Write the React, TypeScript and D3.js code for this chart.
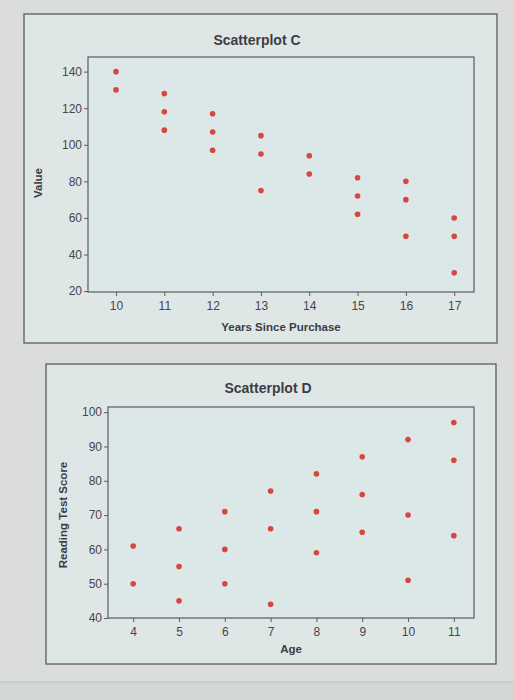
import { useEffect, useRef } from 'react';
import * as d3 from 'd3';

// Scatterplot C: years since purchase vs value
const yearsC = [10, 10, 11, 11, 11, 12, 12, 12, 13, 13, 13, 14, 14, 15, 15, 15, 16, 16, 16, 17, 17, 17];
const valuesC = [140, 130, 128, 118, 108, 117, 107, 97, 105, 95, 75, 94, 84, 82, 72, 62, 80, 70, 50, 60, 50, 30];
const xTicksC = [10, 11, 12, 13, 14, 15, 16, 17];
const yTicksC = [20, 40, 60, 80, 100, 120, 140];

// Scatterplot D: age vs reading test score
const ageD = [4, 4, 5, 5, 5, 6, 6, 6, 7, 7, 7, 8, 8, 8, 9, 9, 9, 10, 10, 10, 11, 11, 11];
const scoreD = [61, 50, 66, 55, 45, 71, 60, 50, 77, 66, 44, 82, 71, 59, 87, 76, 65, 92, 70, 51, 97, 86, 64];
const xTicksD = [4, 5, 6, 7, 8, 9, 10, 11];
const yTicksD = [40, 50, 60, 70, 80, 90, 100];

interface PanelSpec {
  panel: { x: number; y: number; w: number; h: number };
  plot: { left: number; right: number; top: number; bottom: number };
  xDomain: [number, number];
  yDomain: [number, number];
  xs: number[];
  ys: number[];
  xTicks: number[];
  yTicks: number[];
  title: string;
  titleX: number;
  titleY: number;
  xLabel: string;
  xLabelY: number;
  yLabel: string;
  yLabelX: number;
  yLabelY: number;
}

const drawPanel = (svg: d3.Selection<SVGSVGElement, unknown, null, undefined>, s: PanelSpec) => {
  const font = 'Liberation Sans, Arial, sans-serif';
  const g = svg.append('g');

  g.append('rect')
    .attr('x', s.panel.x)
    .attr('y', s.panel.y)
    .attr('width', s.panel.w)
    .attr('height', s.panel.h)
    .attr('fill', '#dfe6e6')
    .attr('stroke', '#5a5d62')
    .attr('stroke-width', 1.3);

  const x = d3.scaleLinear().domain(s.xDomain).range([s.plot.left, s.plot.right]);
  const y = d3.scaleLinear().domain(s.yDomain).range([s.plot.bottom, s.plot.top]);

  g.append('rect')
    .attr('x', s.plot.left)
    .attr('y', s.plot.top)
    .attr('width', s.plot.right - s.plot.left)
    .attr('height', s.plot.bottom - s.plot.top)
    .attr('fill', '#dce7e8')
    .attr('stroke', '#5a5d62')
    .attr('stroke-width', 1.2);

  const xAxis = g.append('g')
    .attr('transform', `translate(0,${s.plot.bottom})`)
    .call(d3.axisBottom(x).tickValues(s.xTicks).tickSize(4).tickPadding(5).tickFormat(d3.format('d')));
  const yAxis = g.append('g')
    .attr('transform', `translate(${s.plot.left},0)`)
    .call(d3.axisLeft(y).tickValues(s.yTicks).tickSize(4).tickPadding(2).tickFormat(d3.format('d')));

  [xAxis, yAxis].forEach(a => {
    a.select('.domain').remove();
    a.selectAll('.tick line').attr('stroke', '#5a5d62');
    a.selectAll('text')
      .style('font-family', font)
      .style('font-size', '12px')
      .style('fill', '#45474c');
  });

  g.selectAll('.dot')
    .data(s.xs.map((v, i) => ({ x: v, y: s.ys[i] })))
    .join('circle')
    .attr('class', 'dot')
    .attr('cx', d => x(d.x))
    .attr('cy', d => y(d.y))
    .attr('r', 2.8)
    .attr('fill', '#d8463f');

  g.append('text')
    .attr('x', s.titleX)
    .attr('y', s.titleY)
    .attr('text-anchor', 'middle')
    .style('font-family', font)
    .style('font-size', '14px')
    .style('font-weight', 'bold')
    .style('fill', '#3c3d44')
    .text(s.title);

  g.append('text')
    .attr('x', (s.plot.left + s.plot.right) / 2)
    .attr('y', s.xLabelY)
    .attr('text-anchor', 'middle')
    .style('font-family', font)
    .style('font-size', '11.5px')
    .style('font-weight', 'bold')
    .style('fill', '#3c3d44')
    .text(s.xLabel);

  g.append('text')
    .attr('transform', `translate(${s.yLabelX},${s.yLabelY}) rotate(-90)`)
    .attr('text-anchor', 'middle')
    .style('font-family', font)
    .style('font-size', '11.5px')
    .style('font-weight', 'bold')
    .style('fill', '#3c3d44')
    .text(s.yLabel);
};

const App = () => {
  const svgRef = useRef<SVGSVGElement>(null);
  const width = 514;
  const height = 700;

  useEffect(() => {
    if (!svgRef.current) return;
    const svg = d3.select(svgRef.current);
    svg.selectAll('*').remove();

    // page background (photo of a worksheet)
    svg.append('rect').attr('width', width).attr('height', height).attr('fill', '#dadddc');
    svg.append('rect').attr('y', 682).attr('width', width).attr('height', height - 682).attr('fill', '#d2d6d6');
    svg.append('line')
      .attr('x1', 0).attr('x2', width).attr('y1', 682).attr('y2', 682)
      .attr('stroke', '#bcc1c1').attr('stroke-width', 1);

    drawPanel(svg, {
      panel: { x: 24, y: 14, w: 473, h: 329 },
      plot: { left: 88, right: 474, top: 57, bottom: 292 },
      xDomain: [9.42, 17.41],
      yDomain: [19.5, 148],
      xs: yearsC,
      ys: valuesC,
      xTicks: xTicksC,
      yTicks: yTicksC,
      title: 'Scatterplot C',
      titleX: 257,
      titleY: 45,
      xLabel: 'Years Since Purchase',
      xLabelY: 331,
      yLabel: 'Value',
      yLabelX: 42,
      yLabelY: 183,
    });

    drawPanel(svg, {
      panel: { x: 46, y: 364, w: 450, h: 300 },
      plot: { left: 108, right: 474, top: 407, bottom: 618 },
      xDomain: [3.45, 11.44],
      yDomain: [40, 101.5],
      xs: ageD,
      ys: scoreD,
      xTicks: xTicksD,
      yTicks: yTicksD,
      title: 'Scatterplot D',
      titleX: 268,
      titleY: 393,
      xLabel: 'Age',
      xLabelY: 653,
      yLabel: 'Reading Test Score',
      yLabelX: 67,
      yLabelY: 515,
    });
  }, []);

  return (
    <svg
      ref={svgRef}
      width={width}
      height={height}
      style={{ position: 'absolute', left: 0, top: 0, display: 'block' }}
    />
  );
};

export default App;
